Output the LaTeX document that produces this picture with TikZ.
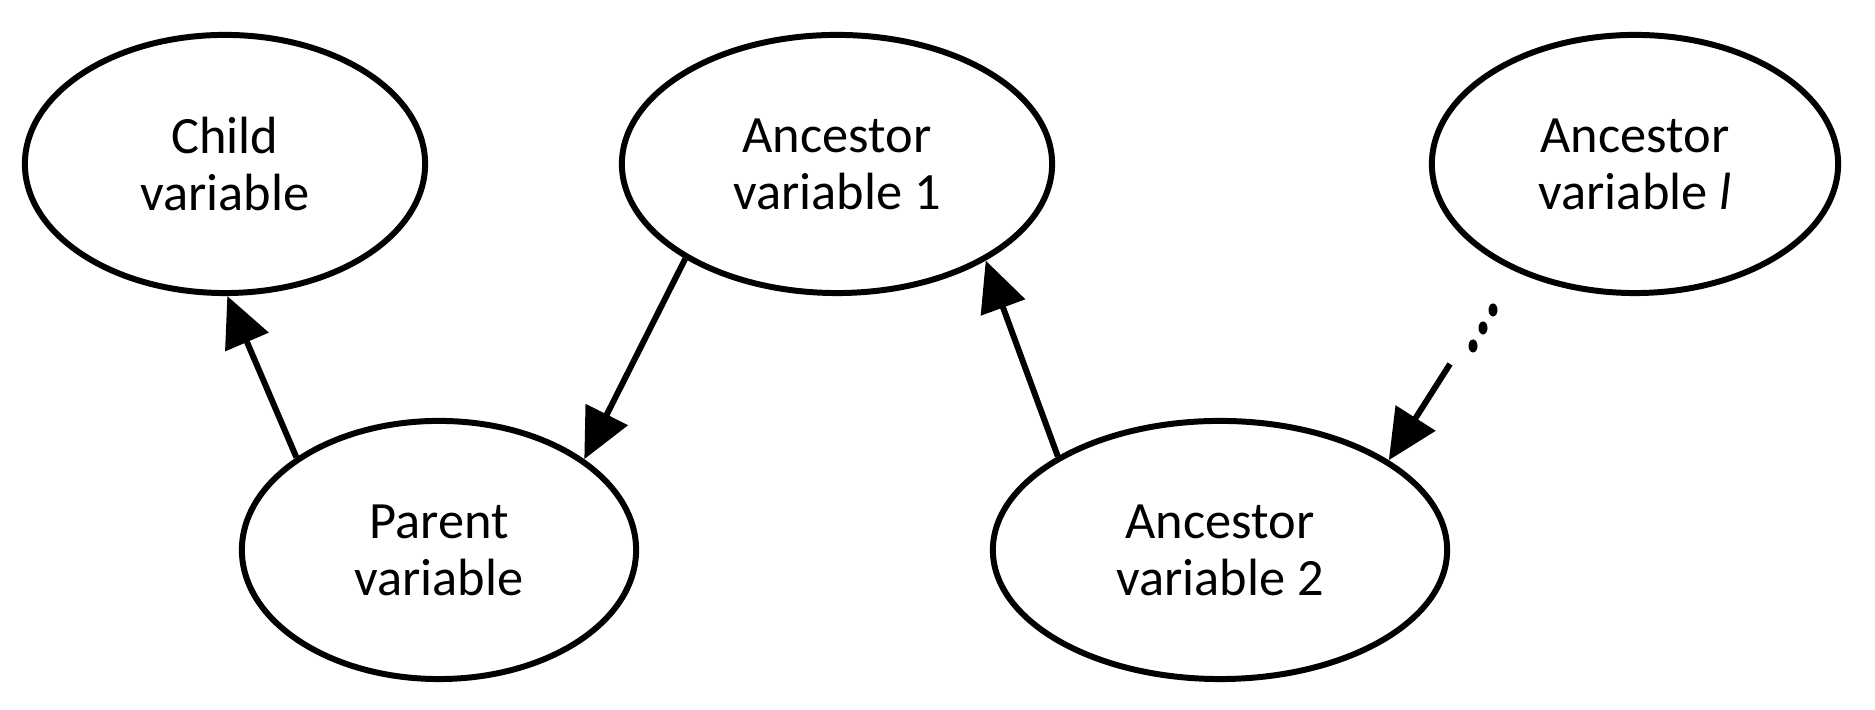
\documentclass[tikz,border=0pt]{standalone}
\usepackage{fontspec}
\setmainfont{Carlito}
\usetikzlibrary{shapes.geometric,arrows.meta}
\begin{document}
\begin{tikzpicture}[x=0.01cm,y=0.01cm,
  var/.style={ellipse,draw,line width=1.7pt,inner sep=0pt,align=center,font=\fontsize{14.9}{16.2}\selectfont},
  arr/.style={line width=1.7pt,-{Triangle[length=0.5cm,width=0.46cm]}},
  dotn/.style={ellipse,fill,inner sep=0pt,minimum width=0.09cm,minimum height=0.13cm}]
\useasboundingbox (0,0) rectangle (1875,710);
\node[var,minimum width=4.00cm,minimum height=2.58cm] (c) at (225,546) {Child\\variable};
\node[var,minimum width=4.30cm,minimum height=2.58cm] (a1) at (837,546) {Ancestor\\variable 1};
\node[var,minimum width=4.06cm,minimum height=2.58cm] (ai) at (1635,546) {Ancestor\\variable \textit{l}};
\node[var,minimum width=3.94cm,minimum height=2.58cm] (p) at (439,160) {Parent\\variable};
\node[var,minimum width=4.54cm,minimum height=2.58cm] (a2) at (1220,160) {Ancestor\\variable 2};
\draw[arr] (p.147) -- (c.271);
\draw[arr] (a1.212) -- (p.32);
\draw[arr] (a2.150) -- (a1.327);
\node[dotn] (d1) at (1493,400) {};
\node[dotn] (d2) at (1483,382) {};
\node[dotn] (d3) at (1473,364) {};
\coordinate (s) at (1450,346);
\draw[arr] (s) -- (a2.28);
\end{tikzpicture}
\end{document}
